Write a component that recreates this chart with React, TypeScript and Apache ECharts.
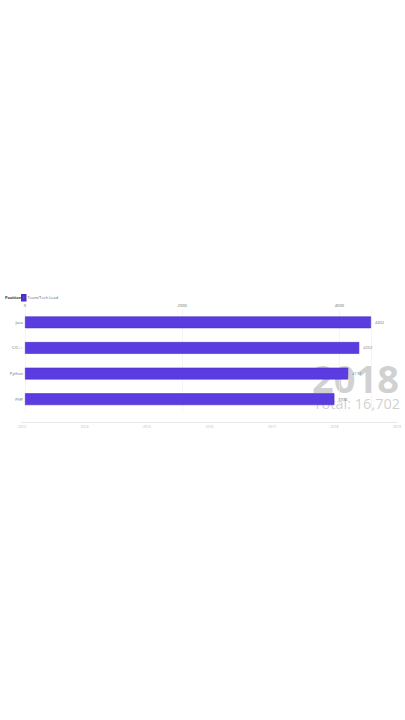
import React, { useEffect, useRef } from "react";
import * as echarts from "echarts";

const languages = ["Java", "C/C++", "Python", "PHP"];
const counts = [4402, 4252, 4112, 3936];
const years = ["2013", "2014", "2015", "2016", "2017", "2018", "2019"];
const currentYear = "2018";
const legendName = "Team/Tech Lead";
const legendTitle = "Position";

export default function App() {
  const ref = useRef<HTMLDivElement>(null);
  useEffect(() => {
    if (!ref.current) return;
    const chart = echarts.init(ref.current, null, { renderer: "svg" });
    const total = counts.reduce((a, b) => a + b, 0);
    const font = "'Open Sans', 'Noto Sans', sans-serif";
    chart.setOption({
      animation: false,
      textStyle: { fontFamily: font },
      legend: {
        left: 21,
        top: 294,
        icon: "rect",
        itemWidth: 3.5,
        itemHeight: 5.5,
        itemGap: 4,
        padding: 0,
        textStyle: { fontSize: 4, color: "#666", padding: [0, 0, 0, -3] },
        data: [legendName],
      },
      grid: [
        { left: 25, width: 346, top: 309.5, height: 102.5, containLabel: false },
        { left: 22, width: 375, top: 421, height: 1, containLabel: false },
      ],
      xAxis: [
        {
          type: "value",
          gridIndex: 0,
          position: "top",
          min: 0,
          max: "dataMax",
          interval: 2000,
          axisLine: { show: false },
          axisTick: { show: false },
          axisLabel: {
            fontSize: 4,
            color: "#666",
            margin: 2,
            showMaxLabel: false,
            formatter: (v: number) => String(v),
          },
          splitLine: { lineStyle: { color: "#eee", width: 0.6 } },
        },
        {
          type: "category",
          gridIndex: 1,
          data: years,
          boundaryGap: false,
          axisLine: { lineStyle: { color: "#e2e2e2", width: 0.8 } },
          axisTick: { show: false },
          axisLabel: { fontSize: 3.5, color: "#bbb", margin: 2 },
          splitLine: { show: false },
        },
      ],
      yAxis: [
        {
          type: "category",
          gridIndex: 0,
          data: languages,
          inverse: true,
          axisLine: { show: false },
          axisTick: { show: false },
          axisLabel: { fontSize: 4, color: "#666", margin: 2 },
        },
        {
          type: "value",
          gridIndex: 1,
          show: false,
        },
      ],
      graphic: [
        {
          type: "text",
          left: 5,
          top: 295.5,
          style: { text: legendTitle, fontSize: 4, fontWeight: "bold", fill: "#333", fontFamily: font },
        },
        {
          type: "text",
          right: 6,
          top: 359,
          style: { text: currentYear, fontSize: 38, fontWeight: "bold", fill: "rgba(170,170,170,0.55)", fontFamily: font },
        },
        {
          type: "text",
          right: 5,
          top: 396,
          style: {
            text: "Total: " + total.toLocaleString("en-US"),
            fontSize: 14.5,
            fill: "rgba(170,170,170,0.55)",
            fontFamily: font,
          },
        },
      ],
      series: [
        {
          name: legendName,
          type: "bar",
          xAxisIndex: 0,
          yAxisIndex: 0,
          data: counts,
          barWidth: "46%",
          itemStyle: { color: "#5b3ce0", borderColor: "#4a2ec4", borderWidth: 0.6 },
          label: { show: true, position: "right", distance: 4, fontSize: 4, color: "#777" },
        },
      ],
    });
    return () => chart.dispose();
  }, []);
  return (
    <div
      ref={ref}
      style={{ position: "absolute", left: 0, top: 0, width: 405, height: 720 }}
    />
  );
}
